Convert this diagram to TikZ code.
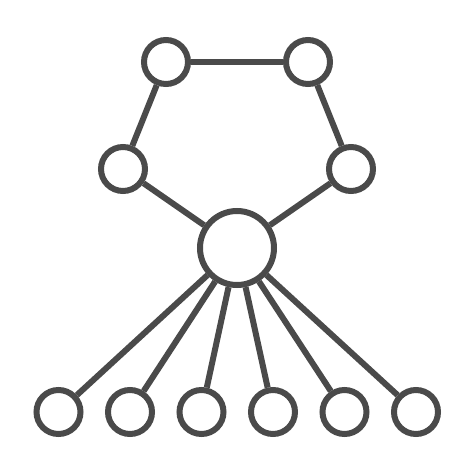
\documentclass[tikz,border=0pt]{standalone}
\begin{document}
\begin{tikzpicture}[x=1pt,y=-1pt,
  ink/.style={draw=black!71},
  smallnode/.style={circle,ink,line width=6pt,fill=white,inner sep=0pt,minimum size=44pt},
  bignode/.style={circle,ink,line width=6pt,fill=white,inner sep=0pt,minimum size=74pt},
  link/.style={ink,line width=6pt}]
\useasboundingbox[fill=white] (0,0) rectangle (474,474);
\node[smallnode] (tl) at (166,62) {};
\node[smallnode] (tr) at (308,62) {};
\node[smallnode] (ml) at (123,169) {};
\node[smallnode] (mr) at (351,169) {};
\node[bignode] (c) at (237,248) {};
\foreach \i/\x in {1/58.5,2/130,3/201.5,4/273,5/344.5,6/416}
  \node[smallnode] (b\i) at (\x,412) {};
\draw[link] (tl) -- (tr);
\draw[link] (tl) -- (ml);
\draw[link] (tr) -- (mr);
\draw[link] (ml) -- (c);
\draw[link] (mr) -- (c);
\foreach \i in {1,...,6}
  \draw[link] (c) -- (b\i);
\end{tikzpicture}
\end{document}
